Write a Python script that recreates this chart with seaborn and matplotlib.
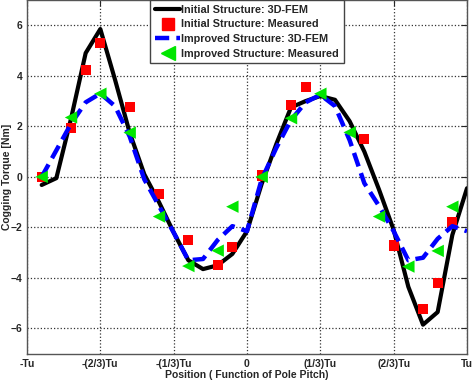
import numpy as np
import pandas as pd
import matplotlib
matplotlib.use('Agg')
import matplotlib.pyplot as plt
import seaborn as sns
from matplotlib.lines import Line2D

# positions in steps of Tu/15
pos_fem = list(range(-14, 16))
init_fem = [-0.32, -0.05, 2.3, 4.9, 5.85, 3.85, 1.75, 0.1, -1.0, -2.2,
            -3.3, -3.65, -3.5, -3.05, -2.15, -0.28, 1.3, 2.75, 3.0, 3.2,
            3.05, 2.2, 1.0, -0.5, -2.1, -4.35, -5.85, -5.35, -2.3, -0.45]
impr_fem = [0.0, 1.05, 2.1, 2.95, 3.3, 2.8, 1.6, -0.1, -1.15, -2.2,
            -3.3, -3.25, -2.5, -1.95, -2.15, -0.1, 1.15, 2.25, 2.95, 3.25,
            2.8, 1.45, -0.25, -1.15, -2.15, -3.3, -3.2, -2.45, -1.95, -2.15]

pos_init_meas = [-14, -12, -11, -10, -8, -6, -4, -2, -1, 1, 3, 4, 8, 10, 12, 13, 14]
init_meas = [0.0, 1.93, 4.24, 5.3, 2.76, -0.67, -2.5, -3.5, -2.78, 0.05,
             2.85, 3.57, 1.5, -2.72, -5.24, -4.19, -1.81]

pos_impr_meas = [-14, -12, -10, -8, -6, -4, -2, -1, 1, 3, 5, 7, 9, 11, 13, 14]
impr_meas = [0.0, 2.35, 3.29, 1.75, -1.57, -3.53, -2.92, -1.18, 0.0, 2.32,
             3.29, 1.76, -1.57, -3.55, -2.93, -1.18]

tick_pos = [-15, -10, -5, 0, 5, 10, 15]
tick_lbl = ['-Tu', '-(2/3)Tu', '-(1/3)Tu', '0', '(1/3)Tu', '(2/3)Tu', 'Tu']

sns.set_style('white')
plt.rcParams['font.family'] = ['Liberation Sans', 'DejaVu Sans']
plt.rcParams['font.weight'] = 'bold'

fig = plt.figure(figsize=(4.74, 3.81), dpi=100)
ax = fig.add_axes([27 / 474, 1 - 353.75 / 381, 440 / 474, 353.75 / 381])

df_fem = pd.DataFrame({'pos': pos_fem, 'init': init_fem, 'impr': impr_fem})
df_im = pd.DataFrame({'pos': pos_init_meas, 'val': init_meas})
df_pm = pd.DataFrame({'pos': pos_impr_meas, 'val': impr_meas})

sns.lineplot(data=df_fem, x='pos', y='init', ax=ax, color='black', lw=3,
             zorder=3, legend=False)
sns.scatterplot(data=df_im, x='pos', y='val', ax=ax, color='#ff0000', marker='s',
                s=55, edgecolor='none', zorder=4, legend=False)
sns.lineplot(data=df_fem, x='pos', y='impr', ax=ax, color='#0000ff', lw=3.2,
             dashes=[(3.2, 1.6)], style=[0] * len(pos_fem),
             zorder=5, legend=False)
sns.scatterplot(data=df_pm, x='pos', y='val', ax=ax, color='#00e600', marker='<',
                s=80, edgecolor='none', zorder=6, legend=False)

handles = [Line2D([], [], color='black', lw=3),
           Line2D([], [], color='#ff0000', marker='s', ls='none', ms=8),
           Line2D([], [], color='#0000ff', lw=3.2, ls=(0, (3.2, 1.6))),
           Line2D([], [], color='#00e600', marker='<', ls='none', ms=10)]
labels = ['Initial Structure: 3D-FEM', 'Initial Structure: Measured',
          'Improved Structure: 3D-FEM', 'Improved Structure: Measured']
leg = ax.legend(handles, labels, loc='upper left', bbox_to_anchor=(0.28, 1.0),
                fontsize=7.8, frameon=True, fancybox=False, framealpha=1,
                borderpad=0.45, labelspacing=0.42, handlelength=2.3,
                handletextpad=0.1, borderaxespad=0)
leg.get_frame().set_edgecolor('#444444')
leg.get_frame().set_linewidth(1.0)
for t in leg.get_texts():
    t.set_fontweight('bold')

ax.set_xlim(-15, 15)
ax.set_ylim(-7, 7)
ax.set_xticks(tick_pos)
ax.set_xticklabels(tick_lbl)
ax.set_yticks([-6, -4, -2, 0, 2, 4, 6])
ax.tick_params(direction='in', length=4, labelsize=7.5, top=True, right=True, width=0.8)
for lab in ax.get_xticklabels() + ax.get_yticklabels():
    lab.set_fontweight('bold')
ax.grid(True, ls=':', color='#333333', lw=0.9)
for s in ax.spines.values():
    s.set_color('#555555')
    s.set_linewidth(1.0)

ax.set_xlabel('Position ( Function of Pole Pitch)', fontsize=7.5, fontweight='bold', labelpad=1)
ax.set_ylabel('Cogging Torque [Nm]', fontsize=7.5, fontweight='bold')
ax.yaxis.set_label_coords(-0.034, 0.5)

fig.savefig('out.png', dpi=100)
